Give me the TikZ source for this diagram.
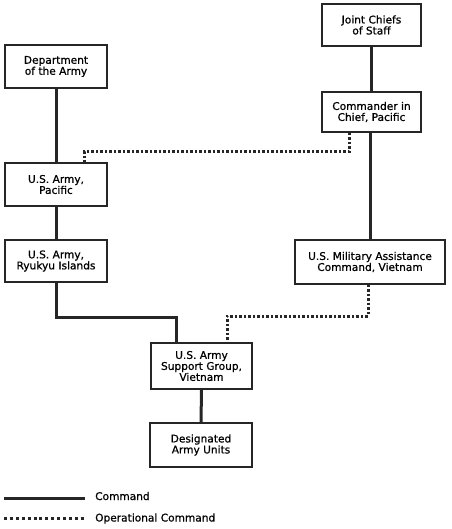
\documentclass[tikz,border=0pt]{standalone}
\usepackage{fontspec}
\setmainfont[FakeBold=0.8]{DejaVu Sans}
\begin{document}
\begin{tikzpicture}[x=1pt,y=-1pt,
  box/.style={draw=black!85,line width=1.3pt,align=center,font=\fontsize{10.6}{11}\selectfont,inner sep=0pt},
  cmd/.style={line width=3pt,draw=black!85},
  opcmd/.style={line width=3pt,draw=black!85,dash pattern=on 2.6pt off 1.9pt},
  lbl/.style={anchor=base west,font=\fontsize{10.6}{12}\selectfont,inner sep=0pt}]
\useasboundingbox (0,0) rectangle (451,529);
\node[box,minimum width=99pt,minimum height=42pt] (jcs) at (371.5,25) {Joint Chiefs\\of Staff};
\node[box,minimum width=102pt,minimum height=43pt] (doa) at (56,66.5) {Department\\of the Army};
\node[box,minimum width=99pt,minimum height=40pt] (cinc) at (371.5,112) {Commander in\\Chief, Pacific};
\node[box,minimum width=102pt,minimum height=43pt] (usarpac) at (56,184.5) {U.S. Army,\\Pacific};
\node[box,minimum width=102pt,minimum height=42pt] (ryukyu) at (56,261) {U.S. Army,\\Ryukyu Islands};
\node[box,minimum width=150pt,minimum height=44pt] (macv) at (370,262) {U.S. Military Assistance\\Command, Vietnam};
\node[box,minimum width=101pt,minimum height=46pt] (sg) at (201.5,366) {U.S. Army\\Support Group,\\Vietnam};
\node[box,minimum width=102pt,minimum height=44pt] (dau) at (201,445) {Designated\\Army Units};
% command lines
\draw[cmd] (jcs.south) -- (cinc.north);
\draw[cmd] (doa.south) -- (usarpac.north);
\draw[cmd] (usarpac.south) -- (ryukyu.north);
\draw[cmd] (cinc.south -| 370,0) -- (macv.north -| 370,0);
\draw[cmd] (ryukyu.south) -- (56,317) -- (176,317) -- (sg.north -| 176,0);
\draw[cmd] (sg.south) -- (dau.north);
% operational command
\draw[opcmd] (cinc.south -| 349,0) -- (349,152) -- (84,152) -- (usarpac.north -| 84,0);
\draw[opcmd] (macv.south -| 368,0) -- (368,316) -- (227,316) -- (sg.north -| 227,0);
% legend
\coordinate (l1a) at (4,498.5);
\coordinate (l1b) at (85,498.5);
\coordinate (l2a) at (4,518);
\coordinate (l2b) at (84,518);
\draw[cmd] (l1a) -- (l1b);
\draw[opcmd,dash pattern=on 3pt off 2.9pt] (l2a) -- (l2b);
\node[lbl] (lc) at (95,500) {Command};
\node[lbl] (lo) at (95,521.5) {Operational Command};
\end{tikzpicture}
\end{document}
